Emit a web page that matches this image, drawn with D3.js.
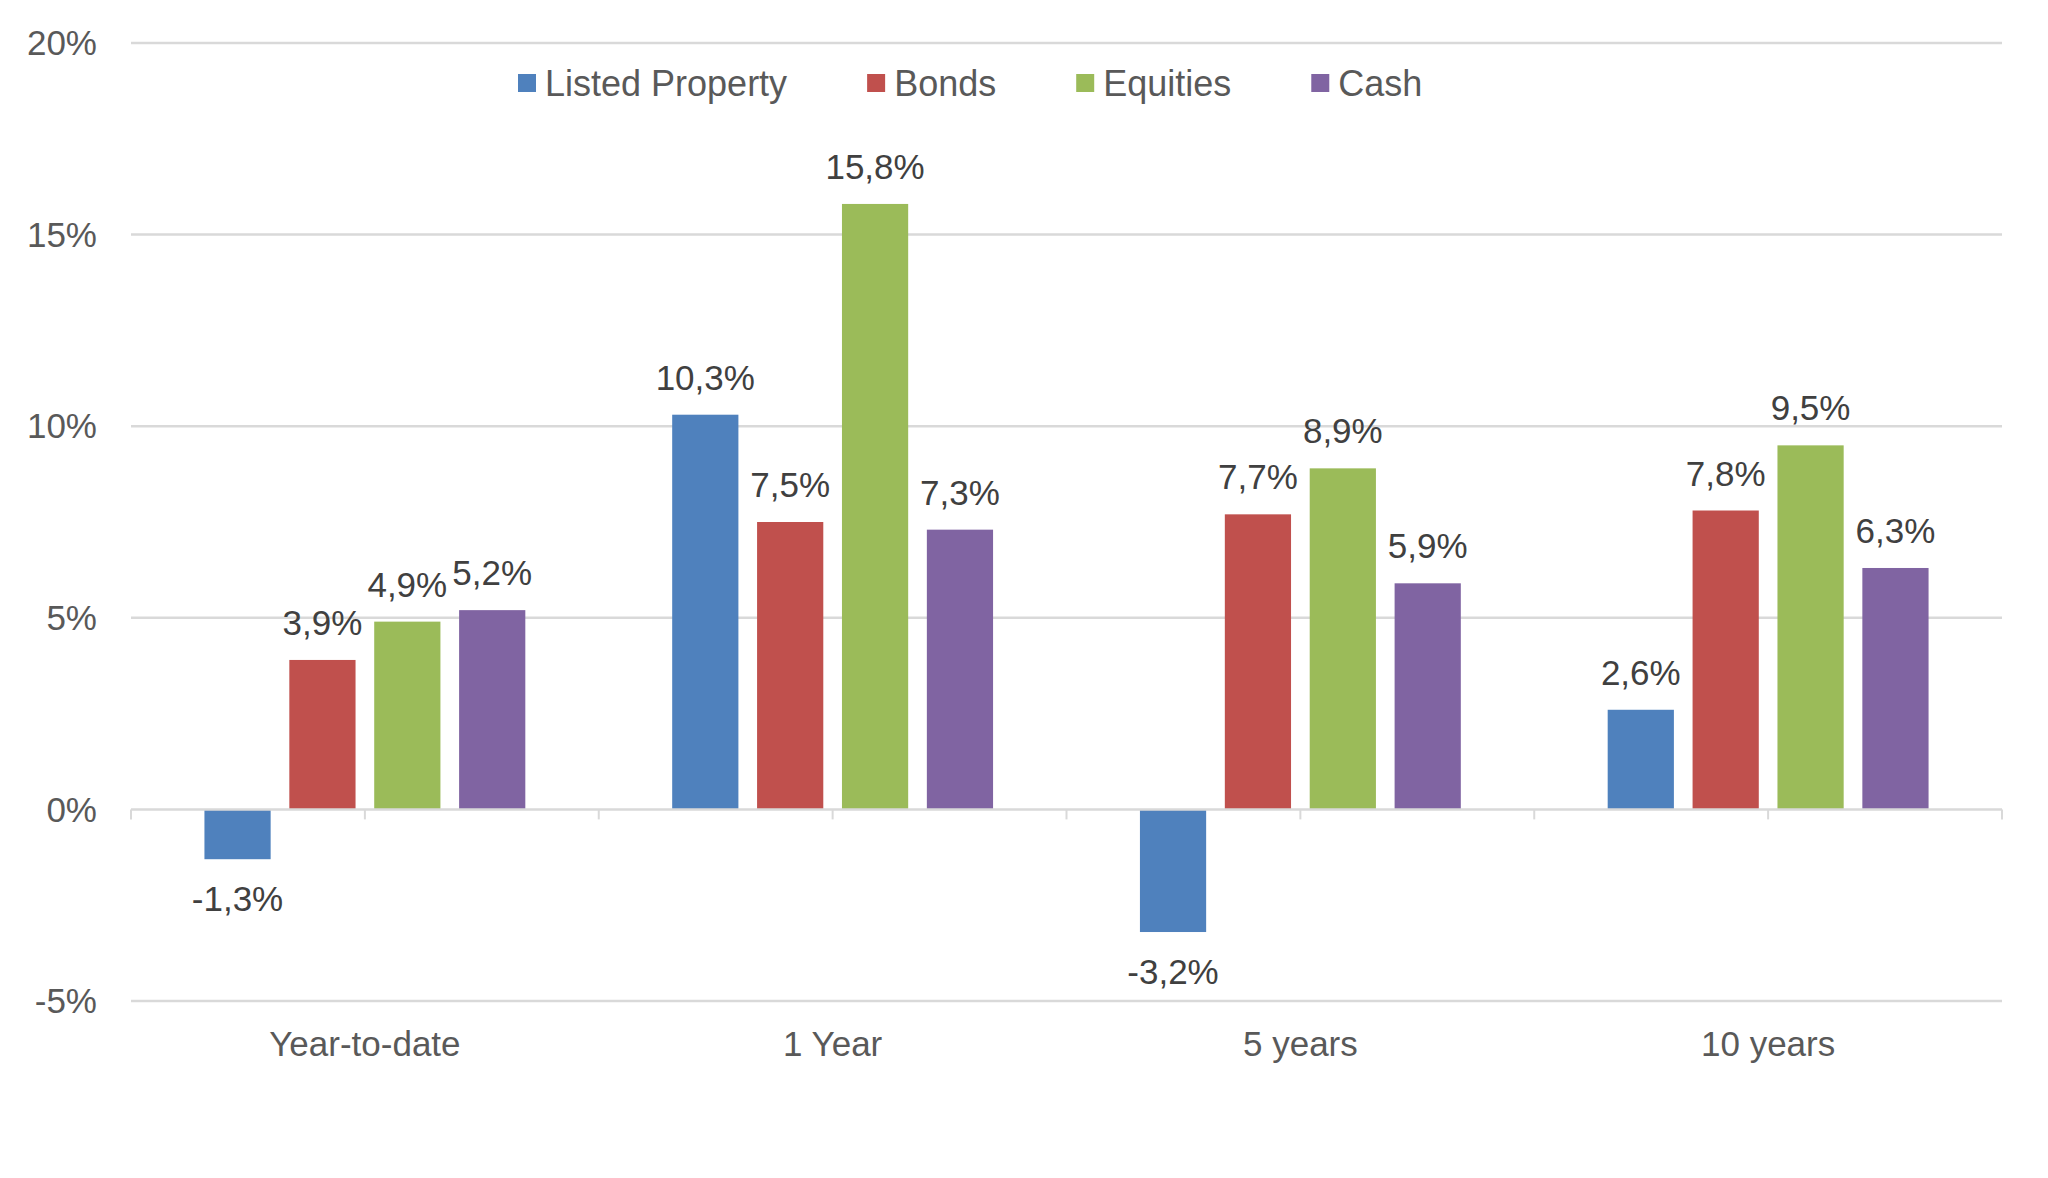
<!DOCTYPE html>
<html>
<head>
<meta charset="utf-8">
<script src="https://cdn.jsdelivr.net/npm/d3@7"></script>
<style>
    body { margin: 0; background: #fff; }
    svg { display: block; font-family: "Liberation Sans", Arial, sans-serif; }
</style>
</head>
<body>
<div id="chart"></div>
<script>
// Chart data
const categories = ["Year-to-date", "1 Year", "5 years", "10 years"];
const seriesNames = ["Listed Property", "Bonds", "Equities", "Cash"];
const listedProperty = [-1.3, 10.3, -3.2, 2.6];
const bonds = [3.9, 7.5, 7.7, 7.8];
const equities = [4.9, 15.8, 8.9, 9.5];
const cash = [5.2, 7.3, 5.9, 6.3];
const yTicks = [-5, 0, 5, 10, 15, 20];

const seriesValues = [listedProperty, bonds, equities, cash];
const seriesColors = {
    "Listed Property": "#4F81BD",
    "Bonds": "#C0504D",
    "Equities": "#9BBB59",
    "Cash": "#8064A2"
};

const W = 2048, H = 1178;
const margin = { top: 43, right: 46, bottom: 177, left: 131 };
const width = W - margin.left - margin.right;
const height = H - margin.top - margin.bottom;

// Comma as decimal separator, plain hyphen for minus
const locale = d3.formatLocale({ decimal: ",", thousands: " ", grouping: [3], currency: ["", ""], minus: "-" });
const fmt = locale.format(".1f");

const textColor = "#595959";
const gridColor = "#D9D9D9";

const svg = d3.select("#chart").append("svg")
    .attr("width", W)
    .attr("height", H)
    .append("g")
    .attr("transform", `translate(${margin.left},${margin.top})`);

const x0 = d3.scaleBand()
    .domain(categories)
    .range([0, width])
    .padding(0);

const x1 = d3.scaleBand()
    .domain(seriesNames)
    .range([x0.bandwidth() * 0.157, x0.bandwidth() * 0.843])
    .paddingInner(0.22)
    .paddingOuter(0);

const y = d3.scaleLinear()
    .domain([-5, 20])
    .range([height, 0]);

// Gridlines
svg.append("g")
    .selectAll("line")
    .data(yTicks.filter(d => d !== 0))
    .enter().append("line")
    .attr("x1", 0)
    .attr("x2", width)
    .attr("y1", d => y(d))
    .attr("y2", d => y(d))
    .attr("stroke", gridColor)
    .attr("stroke-width", 2.5);

// Y-axis labels
svg.append("g")
    .selectAll("text")
    .data(yTicks)
    .enter().append("text")
    .attr("x", -34)
    .attr("y", d => y(d))
    .attr("dy", "0.35em")
    .attr("text-anchor", "end")
    .style("font-size", "35px")
    .style("fill", textColor)
    .text(d => `${d}%`);

// Bars
const rows = categories.map((c, i) => seriesNames.map((s, j) => ({ category: c, series: s, value: seriesValues[j][i] })));

const groups = svg.selectAll(".group")
    .data(rows)
    .enter().append("g")
    .attr("class", "group")
    .attr("transform", d => `translate(${x0(d[0].category)},0)`);

groups.selectAll("rect")
    .data(d => d)
    .enter().append("rect")
    .attr("x", d => x1(d.series))
    .attr("y", d => y(Math.max(0, d.value)))
    .attr("width", x1.bandwidth())
    .attr("height", d => Math.abs(y(d.value) - y(0)))
    .style("fill", d => seriesColors[d.series]);

// Data labels
groups.selectAll(".label")
    .data(d => d)
    .enter().append("text")
    .attr("class", "label")
    .attr("x", d => x1(d.series) + x1.bandwidth() / 2)
    .attr("y", d => d.value >= 0 ? y(d.value) - 25 : y(d.value) + 52)
    .attr("text-anchor", "middle")
    .style("font-size", "35px")
    .style("fill", "#404040")
    .text(d => `${fmt(d.value)}%`);

// Zero axis line and tick marks
svg.append("line")
    .attr("x1", 0)
    .attr("x2", width)
    .attr("y1", y(0))
    .attr("y2", y(0))
    .attr("stroke", gridColor)
    .attr("stroke-width", 2.5);

const tickXs = [];
categories.forEach(c => {
    tickXs.push(x0(c));
    tickXs.push(x0(c) + x0.bandwidth() / 2);
});
tickXs.push(width);

svg.append("g")
    .selectAll("line")
    .data(tickXs)
    .enter().append("line")
    .attr("x1", d => d)
    .attr("x2", d => d)
    .attr("y1", y(0))
    .attr("y2", y(0) + 10)
    .attr("stroke", gridColor)
    .attr("stroke-width", 2);

// Category labels
svg.append("g")
    .selectAll("text")
    .data(categories)
    .enter().append("text")
    .attr("x", d => x0(d) + x0.bandwidth() / 2)
    .attr("y", y(-5) + 55)
    .attr("text-anchor", "middle")
    .style("font-size", "35px")
    .style("fill", textColor)
    .text(d => d);

// Legend
const legend = d3.select("svg").append("g")
    .attr("class", "legend")
    .attr("transform", "translate(518, 83)");

let lx = 0;
seriesNames.forEach(name => {
    const item = legend.append("g").attr("transform", `translate(${lx},0)`);
    item.append("rect")
        .attr("x", 0)
        .attr("y", -9)
        .attr("width", 18)
        .attr("height", 18)
        .style("fill", seriesColors[name]);
    const t = item.append("text")
        .attr("x", 27)
        .attr("y", 0)
        .attr("dy", "0.35em")
        .style("font-size", "36px")
        .style("fill", textColor)
        .text(name);
    lx += 27 + t.node().getComputedTextLength() + 80;
});
</script>
</body>
</html>
